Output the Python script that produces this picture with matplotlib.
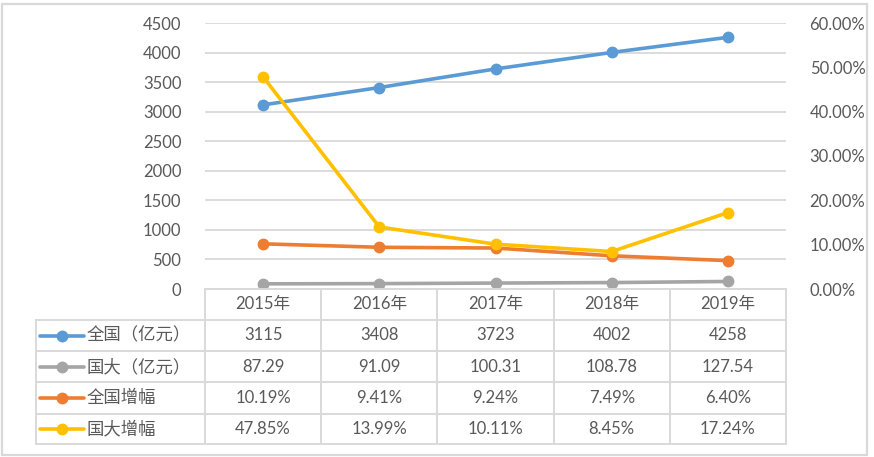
import matplotlib
matplotlib.use("Agg")
from matplotlib import pyplot as plt
from matplotlib.lines import Line2D
from matplotlib.patches import Rectangle

plt.rcParams['font.family'] = ['Lato', 'Noto Sans CJK SC', 'DejaVu Sans']

W, H = 874, 457

years = ["2015年", "2016年", "2017年", "2018年", "2019年"]
quanguo = [3115, 3408, 3723, 4002, 4258]
guoda = [87.29, 91.09, 100.31, 108.78, 127.54]
quanguo_rate = [10.19, 9.41, 9.24, 7.49, 6.40]
guoda_rate = [47.85, 13.99, 10.11, 8.45, 17.24]

names = ["全国（亿元）", "国大（亿元）", "全国增幅", "国大增幅"]
colors = ["#5B9BD5", "#A5A5A5", "#ED7D31", "#FFC000"]
cells = [
    [str(v) for v in quanguo],
    ["{:.2f}".format(v) for v in guoda],
    ["{:.2f}%".format(v) for v in quanguo_rate],
    ["{:.2f}%".format(v) for v in guoda_rate],
]

TXT = "#595959"
GRID = "#D9D9D9"


def fx(x):
    return x / W


def fy(y):
    return 1 - y / H


fig = plt.figure(figsize=(W / 100, H / 100), dpi=100)

# plot area in pixels
left, right, top, bottom = 205, 786, 23, 289
ax = fig.add_axes([fx(left), fy(bottom), fx(right) - fx(left), fy(top) - fy(bottom)])
ax2 = ax.twinx()

x = list(range(len(years)))
ax.plot(x, quanguo, color=colors[0], lw=2.6, marker='o', ms=7.5, zorder=3)
ax.plot(x, guoda, color=colors[1], lw=2.6, marker='o', ms=7.5, zorder=3)
ax2.plot(x, quanguo_rate, color=colors[2], lw=2.6, marker='o', ms=7.5, zorder=3)
ax2.plot(x, guoda_rate, color=colors[3], lw=2.6, marker='o', ms=7.5, zorder=3)

ax.set_xlim(-0.5, len(years) - 0.5)
ax.set_ylim(0, 4500)
ax.set_yticks(range(0, 4501, 500))
ax2.set_ylim(0, 60)
ax2.set_yticks(range(0, 61, 10))
ax2.set_yticklabels(["{:.2f}%".format(v) for v in range(0, 61, 10)])
ax.set_xticks([])
ax.yaxis.grid(True, color=GRID, lw=1.3)
ax.set_axisbelow(True)
for a in (ax, ax2):
    for s in a.spines.values():
        s.set_visible(False)
    a.tick_params(axis='y', length=0, labelsize=12, labelcolor=TXT, pad=17)

# data table
col_w = (right - left) / len(years)
xs = [left + i * col_w for i in range(len(years) + 1)]
ys = [289, 320, 351, 382, 414, 444]
leg_left = 36


def hline(y, x0, x1):
    fig.add_artist(Line2D([fx(x0), fx(x1)], [fy(y), fy(y)], color=GRID, lw=1.4))


def vline(xp, y0, y1):
    fig.add_artist(Line2D([fx(xp), fx(xp)], [fy(y0), fy(y1)], color=GRID, lw=1.4))


hline(ys[0], left, right)
for y in ys[1:]:
    hline(y, leg_left, right)
vline(leg_left, ys[1], ys[-1])
for xp in xs:
    vline(xp, ys[0], ys[-1])

for i, yr in enumerate(years):
    fig.text(fx((xs[i] + xs[i + 1]) / 2), fy((ys[0] + ys[1]) / 2), yr,
             ha='center', va='center', fontsize=12, color=TXT)

for r, name in enumerate(names):
    yc = (ys[r + 1] + ys[r + 2]) / 2
    fig.add_artist(Line2D([fx(40), fx(84)], [fy(yc), fy(yc)], color=colors[r], lw=2.6,
                          solid_capstyle='round'))
    fig.add_artist(Line2D([fx(62)], [fy(yc)], color=colors[r], marker='o', ms=7.5, lw=0))
    fig.text(fx(87), fy(yc), name, ha='left', va='center', fontsize=12.5, color=TXT)
    for i, val in enumerate(cells[r]):
        fig.text(fx((xs[i] + xs[i + 1]) / 2), fy(yc), val,
                 ha='center', va='center', fontsize=12, color=TXT)

# outer frame
fig.add_artist(Rectangle((fx(2), fy(455)), fx(865), 453 / H - 2 / H, fill=False,
                         edgecolor=GRID, lw=1.6))

fig.savefig("out.png", dpi=100)
